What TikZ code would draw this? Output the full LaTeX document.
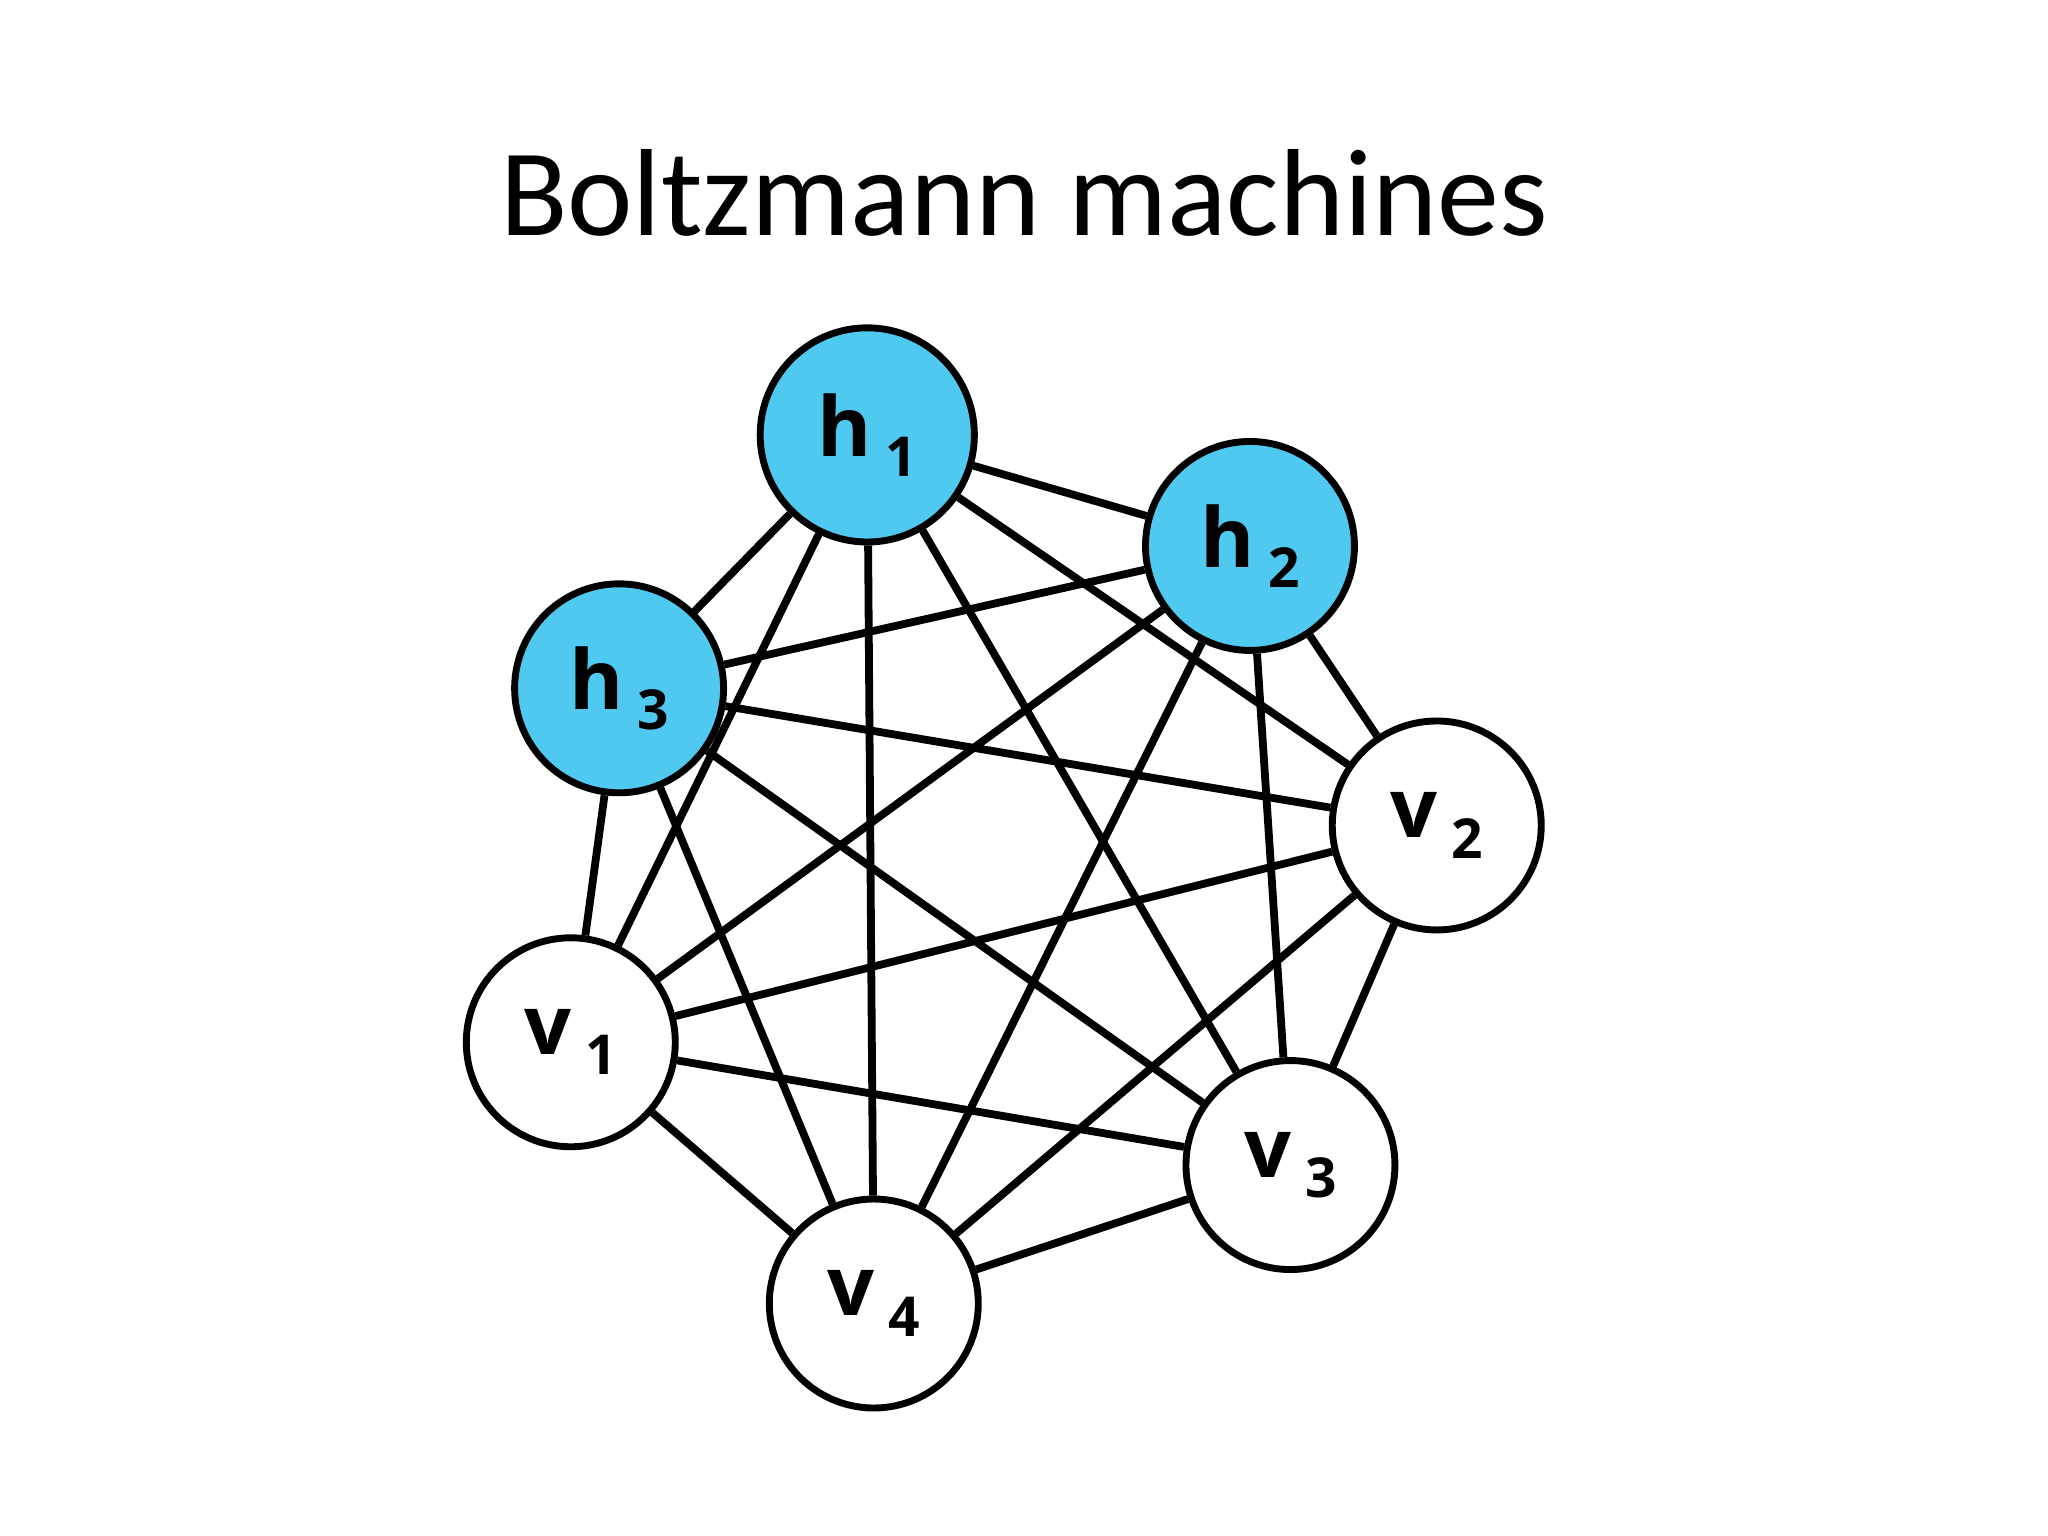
\documentclass[tikz,border=0pt]{standalone}
\usepackage{fontspec}
\setmainfont{Carlito}
\newfontfamily\lblfont{Open Sans}
\definecolor{hid}{HTML}{4FC9F0}
\tikzset{
 unit/.style={circle,draw=black,line width=1.5pt,minimum size=1.6cm,inner sep=0pt,fill=white},
 hunit/.style={unit,fill=hid},
 edge/.style={line width=1.7pt}
}
\newcommand{\lbl}[2]{{\lblfont\bfseries\fontsize{18}{18}\selectfont #1\,\raisebox{-0.45ex}{\fontsize{12}{12}\selectfont #2}}}
\begin{document}
\begin{tikzpicture}
\useasboundingbox (0,0) rectangle (15.68,-11.76);
\node at (7.84,-1.48) {\fontsize{27}{27}\selectfont Boltzmann machines};
\node[hunit,minimum size=1.64cm] (h1) at (6.64,-3.33) {\lbl{h}{1}};
\node[hunit] (h2) at (9.57,-4.18) {\lbl{h}{2}};
\node[hunit] (h3) at (4.74,-5.27) {\lbl{h}{3}};
\node[unit] (v2) at (11.00,-6.32) {\lbl{v}{2}};
\node[unit] (v1) at (4.37,-7.98) {\lbl{v}{1}};
\node[unit] (v3) at (9.88,-8.92) {\lbl{v}{3}};
\node[unit] (v4) at (6.69,-9.98) {\lbl{v}{4}};
\foreach \a/\b in {h1/h2,h1/h3,h1/v1,h1/v2,h1/v3,h1/v4,h2/h3,h2/v1,h2/v2,h2/v3,h2/v4,h3/v1,h3/v2,h3/v3,h3/v4,v1/v2,v1/v3,v1/v4,v2/v3,v2/v4,v3/v4}
  \draw[edge] (\a) -- (\b);
\end{tikzpicture}
\end{document}
